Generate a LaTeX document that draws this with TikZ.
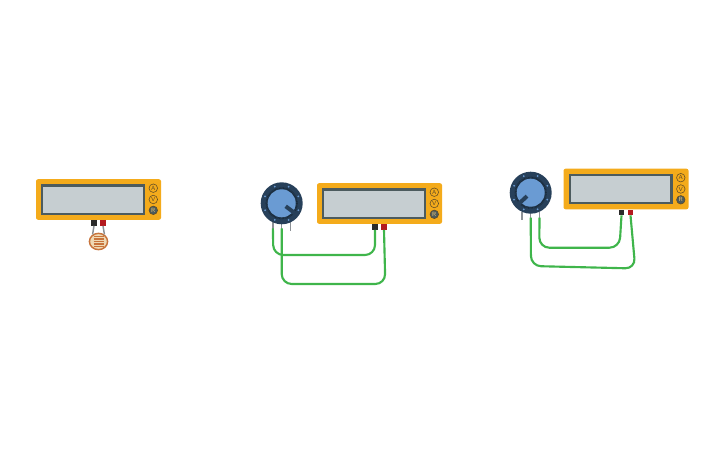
\documentclass[tikz,border=0pt]{standalone}
\usepackage{tikz}
\usetikzlibrary{positioning, shapes.geometric}

\definecolor{meterorange}{HTML}{F4AB1B}
\definecolor{screengrey}{HTML}{C6CED1}
\definecolor{screenedge}{HTML}{4C5B5E}
\definecolor{knobdark}{HTML}{27405A}
\definecolor{knobblue}{HTML}{6A9BD3}
\definecolor{wiregreen}{HTML}{3FB54B}
\definecolor{pingrey}{HTML}{8C9196}
\definecolor{probered}{HTML}{B3191E}
\definecolor{probeblack}{HTML}{2A2A2A}
\definecolor{ldrtan}{HTML}{EFD9B4}
\definecolor{ldrring}{HTML}{C8743C}

\tikzset{
  body/.style={rectangle, fill=meterorange, rounded corners=1.5pt,
    minimum width=93.75pt, minimum height=30.4pt, inner sep=0pt},
  screen/.style={rectangle, draw=screenedge, fill=screengrey, line width=1.7pt,
    minimum width=76.3pt, minimum height=21.2pt, inner sep=0pt},
  dial/.style={circle, draw=probeblack!75!meterorange, line width=0.4pt, text=probeblack!75!meterorange,
    font=\sffamily\fontsize{4.5}{4.5}\selectfont, minimum size=6.4pt, inner sep=0pt},
  dialon/.style={dial, fill=screenedge, text=meterorange!60!white},
  probe/.style={rectangle, minimum width=4.2pt, minimum height=4pt, inner sep=0pt},
  wire/.style={draw=wiregreen, line width=1.6pt, rounded corners=7.5pt},
  pin/.style={draw=pingrey, line width=1.1pt},
  meter/.pic={
    \node [body] (-body) at (0,0) {};
    \node [screen] (-screen) at (-5.5,0) {};
    \node [dial] (-amp) at (54.8,-11.3) {A};
    \node [dial] (-volt) at (54.8,0) {V};
    \node [dialon] (-ohm) at (54.8,10.8) {R};
    \node [probe, fill=probeblack] (-black) at (-4.5,23.4) {};
    \node [probe, fill=probered] (-red) at (4.5,23.4) {};
  },
  pot/.pic={
    \draw [pin] (-8.8,19) -- (-8.8,27.5);
    \draw [pin] (0,20.5) -- (0,27.5);
    \draw [pin] (8.8,19) -- (8.8,27.5);
    \node [circle, fill=knobdark, minimum size=31.5pt, inner sep=0pt] (-case) at (0,0) {};
    \foreach \a in {0,45,...,315}
      \fill [knobblue] (\a+22.5:18) circle (1);
    \draw [knobdark!65!black, line width=1.6pt, dash pattern=on 0.5pt off 0.5pt] (0,0) circle (15);
    \node [circle, fill=knobblue, minimum size=21pt, inner sep=0pt] (-knob) at (0,0) {};
    \draw [knobdark, line width=3pt] (#1:5) -- (#1:16.5);
    \coordinate (-pina) at (-8.8,25);
    \coordinate (-pinb) at (0,25);
    \coordinate (-pinc) at (8.8,25);
  }
}

\begin{document}
\begin{tikzpicture}[x=0.75pt, y=-0.75pt]
  \useasboundingbox (0,0) rectangle (725,453);

  % light sensor
  \pic (metera) at (98.5,199.5) {meter};
  \node [ellipse, draw=ldrring, fill=ldrtan, line width=1.1pt, minimum width=13.6pt,
    minimum height=12.2pt, inner sep=0pt] (ldr) at (98.5,241.5) {};
  \draw [pin] (metera-black.south) -- (ldr.130);
  \draw [pin] (metera-red.south) -- (ldr.50);
  \foreach \y in {-5,-2.5,0,2.5,5}
    \draw [ldrring, line width=0.9pt] (93.5,241.5+\y) -- (103.5,241.5+\y);

  % first potentiometer
  \pic (meterb) at (379.5,203.5) {meter};
  \pic (potb) at (281.7,203.3) {pot=37};
  \draw [wire] (potb-pina) -- (273.3,255) -- (375,255) -- (meterb-black.south);
  \draw [wire] (potb-pinb) -- (281.7,284) -- (385.3,284) -- (meterb-red.south);

  % second potentiometer
  \pic (meterc) at (626,189) {meter};
  \pic (potc) at (530.7,192.7) {pot=137};
  \draw [wire] (potc-pinc) -- (539.3,247.7) -- (619.5,247.7) -- (meterc-black.south);
  \draw [wire] (potc-pinb) -- (531,266) -- (635.3,268.5) -- (meterc-red.south);
\end{tikzpicture}
\end{document}
